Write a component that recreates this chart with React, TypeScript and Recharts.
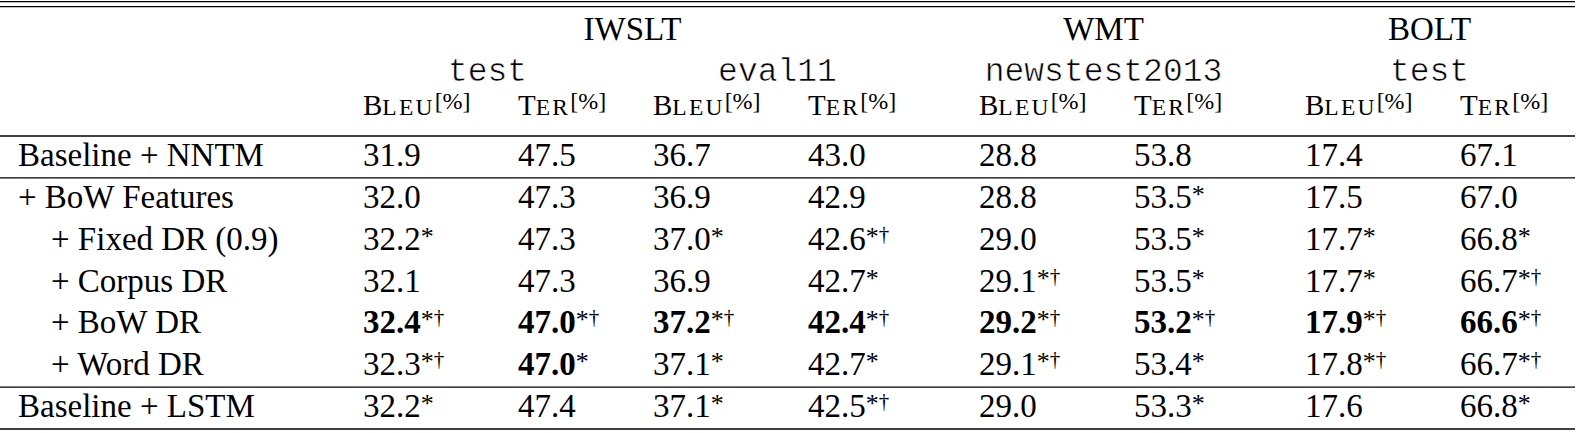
import React from "react";
import { ScatterChart, Scatter, XAxis, YAxis, ReferenceLine } from "recharts";

// ---- table content ----
const datasets = ["IWSLT", "WMT", "BOLT"];
const testSets = ["test", "eval11", "newstest2013", "test"];
const testSetDataset = [0, 0, 1, 2];
const metrics = ["BLEU", "TER"];

const systems = [
  "Baseline + NNTM",
  "+ BoW Features",
  "+ Fixed DR (0.9)",
  "+ Corpus DR",
  "+ BoW DR",
  "+ Word DR",
  "Baseline + LSTM",
];
const systemIndent = [0, 0, 1, 1, 1, 1, 0];

const iwsltTestBleu = [31.9, 32.0, 32.2, 32.1, 32.4, 32.3, 32.2];
const iwsltTestTer = [47.5, 47.3, 47.3, 47.3, 47.0, 47.0, 47.4];
const iwsltEvalBleu = [36.7, 36.9, 37.0, 36.9, 37.2, 37.1, 37.1];
const iwsltEvalTer = [43.0, 42.9, 42.6, 42.7, 42.4, 42.7, 42.5];
const wmtBleu = [28.8, 28.8, 29.0, 29.1, 29.2, 29.1, 29.0];
const wmtTer = [53.8, 53.5, 53.5, 53.5, 53.2, 53.4, 53.3];
const boltBleu = [17.4, 17.5, 17.7, 17.7, 17.9, 17.8, 17.6];
const boltTer = [67.1, 67.0, 66.8, 66.7, 66.6, 66.7, 66.8];

// significance marks (* and †)
const iwsltTestBleuSig = ["", "", "*", "", "*†", "*†", "*"];
const iwsltTestTerSig = ["", "", "", "", "*†", "*", ""];
const iwsltEvalBleuSig = ["", "", "*", "", "*†", "*", "*"];
const iwsltEvalTerSig = ["", "", "*†", "*", "*†", "*", "*†"];
const wmtBleuSig = ["", "", "", "*†", "*†", "*†", ""];
const wmtTerSig = ["", "*", "*", "*", "*†", "*", "*"];
const boltBleuSig = ["", "", "*", "*", "*†", "*†", ""];
const boltTerSig = ["", "", "*", "*†", "*†", "*†", "*"];

const columns = [
  { set: 0, metric: 0, values: iwsltTestBleu, sig: iwsltTestBleuSig },
  { set: 0, metric: 1, values: iwsltTestTer, sig: iwsltTestTerSig },
  { set: 1, metric: 0, values: iwsltEvalBleu, sig: iwsltEvalBleuSig },
  { set: 1, metric: 1, values: iwsltEvalTer, sig: iwsltEvalTerSig },
  { set: 2, metric: 0, values: wmtBleu, sig: wmtBleuSig },
  { set: 2, metric: 1, values: wmtTer, sig: wmtTerSig },
  { set: 3, metric: 0, values: boltBleu, sig: boltBleuSig },
  { set: 3, metric: 1, values: boltTer, sig: boltTerSig },
];

// ---- layout ----
const WIDTH = 1578;
const HEIGHT = 433;
const PLOT_W = 1575;
const FIRST_COL = 363;
const BLEU_W = 155;
const TER_W = 135;
const GROUP_GAP = 36;
const TER_HEAD_W = 94;
const LABEL_X = 18;
const INDENT = 33;
const SERIF = "'Liberation Serif', 'Times New Roman', serif";
const MONO = "'Liberation Mono', 'Courier New', monospace";
const FS = 33;
const RULE = 1.3;

const colLeft: number[] = [];
{
  let pos = FIRST_COL;
  columns.forEach((c, i) => {
    colLeft.push(pos);
    pos += c.metric === 0 ? BLEU_W : TER_W;
    const next = columns[i + 1];
    if (next && testSetDataset[next.set] !== testSetDataset[c.set]) pos += GROUP_GAP;
  });
}
const spanCenter = (idx: number[]) =>
  (colLeft[idx[0]] + colLeft[idx[idx.length - 1]] + TER_HEAD_W) / 2;
const setCenters = testSets.map((_, s) =>
  spanCenter(columns.map((c, i) => (c.set === s ? i : -1)).filter((i) => i >= 0))
);
const datasetCenters = datasets.map((_, d) =>
  spanCenter(
    columns.map((c, i) => (testSetDataset[c.set] === d ? i : -1)).filter((i) => i >= 0)
  )
);

const best = columns.map((c) =>
  c.metric === 0 ? Math.max(...c.values) : Math.min(...c.values)
);

const cellData = columns.map((c, ci) =>
  systems.map((s, ri) => ({
    x: colLeft[ci],
    system: s,
    value: c.values[ri],
    sig: c.sig[ri],
    bold: c.values[ri] === best[ci],
  }))
);
const labelData = systems.map((s, ri) => ({
  x: LABEL_X + INDENT * systemIndent[ri],
  system: s,
}));
// anchors so the header axes get a domain
const setAnchors = setCenters.map((x) => ({ x, system: systems[0] }));
const datasetAnchors = datasetCenters.map((x) => ({ x, system: systems[0] }));

const CellText = (props: any) => {
  const { cx, cy, payload } = props;
  const sig: string = payload.sig || "";
  return (
    <text
      x={cx}
      y={cy + 9}
      fontFamily={SERIF}
      fontSize={FS}
      fontWeight={payload.bold ? 700 : 400}
      fill="#000"
    >
      {payload.value.toFixed(1)}
      {sig.includes("*") && (
        <tspan fontSize={26} fontWeight={400} dy={-5}>
          *
        </tspan>
      )}
      {sig.includes("†") && (
        <tspan fontSize={21} fontWeight={400} dy={-4}>
          †
        </tspan>
      )}
    </text>
  );
};

const LabelText = (props: any) => {
  const { cx, cy, payload } = props;
  return (
    <text x={cx} y={cy + 9} fontFamily={SERIF} fontSize={FS} fill="#000">
      {payload.system}
    </text>
  );
};

const Empty = () => <g />;

const MetricTick = (props: any) => {
  const { x, y, payload } = props;
  const ci = colLeft.indexOf(payload.value);
  if (ci < 0) return null;
  const name = metrics[columns[ci].metric];
  return (
    <text x={x} y={y - 21} fontFamily={SERIF} fontSize={29} fill="#000" textAnchor="start">
      <tspan>{name[0]}</tspan>
      <tspan fontSize={23.5} letterSpacing={2.2}>
        {name.slice(1)}
      </tspan>
      <tspan fontSize={24} dy={-6}>
        [%]
      </tspan>
    </text>
  );
};

const SetTick = (props: any) => {
  const { x, y, payload } = props;
  const si = setCenters.findIndex((v) => Math.abs(v - payload.value) < 0.01);
  if (si < 0) return null;
  return (
    <text
      x={x}
      y={y - 15}
      fontFamily={MONO}
      fontSize={33}
      fill="#000"
      stroke="#fff"
      strokeWidth={0.6}
      textAnchor="middle"
    >
      {testSets[si]}
    </text>
  );
};

const DatasetTick = (props: any) => {
  const { x, y, payload } = props;
  const di = datasetCenters.findIndex((v) => Math.abs(v - payload.value) < 0.01);
  if (di < 0) return null;
  return (
    <text x={x} y={y - 11} fontFamily={SERIF} fontSize={FS} fill="#000" textAnchor="middle">
      {datasets[di]}
    </text>
  );
};

const ruleLine = { stroke: "#000", strokeWidth: RULE };

export default function App() {
  return (
    <div style={{ position: "absolute", left: 0, top: 0, width: WIDTH, height: HEIGHT, background: "#fff" }}>
      <ScatterChart width={WIDTH} height={HEIGHT} margin={{ top: 0, right: WIDTH - PLOT_W, bottom: 0, left: 0 }}>
        {/* top axes stack upwards from the table body: metrics, test sets, datasets, double rule */}
        <XAxis
          xAxisId="h1_metric"
          type="number"
          dataKey="x"
          orientation="top"
          domain={[0, PLOT_W]}
          allowDataOverflow
          height={40}
          ticks={colLeft}
          interval={0}
          tick={<MetricTick />}
          tickLine={false}
          tickSize={0}
          tickMargin={0}
          axisLine={ruleLine}
        />
        <XAxis
          xAxisId="h2_set"
          type="number"
          dataKey="x"
          orientation="top"
          domain={[0, PLOT_W]}
          allowDataOverflow
          height={45}
          ticks={setCenters}
          interval={0}
          tick={<SetTick />}
          tickLine={false}
          tickSize={0}
          tickMargin={0}
          axisLine={false}
        />
        <XAxis
          xAxisId="h3_dataset"
          type="number"
          dataKey="x"
          orientation="top"
          domain={[0, PLOT_W]}
          allowDataOverflow
          height={44.3}
          ticks={datasetCenters}
          interval={0}
          tick={<DatasetTick />}
          tickLine={false}
          tickSize={0}
          tickMargin={0}
          axisLine={false}
        />
        <XAxis
          xAxisId="h4_rule"
          type="number"
          orientation="top"
          domain={[0, PLOT_W]}
          height={5}
          tick={false}
          tickLine={false}
          axisLine={ruleLine}
        />
        <XAxis
          xAxisId="h5_rule"
          type="number"
          orientation="top"
          domain={[0, PLOT_W]}
          height={1.7}
          tick={false}
          tickLine={false}
          axisLine={ruleLine}
        />
        <XAxis
          xAxisId="z_bottom"
          type="number"
          orientation="bottom"
          domain={[0, PLOT_W]}
          height={4}
          tick={false}
          tickLine={false}
          axisLine={ruleLine}
        />
        <YAxis type="category" dataKey="system" hide reversed allowDuplicatedCategory={false} />
        <ReferenceLine xAxisId="h1_metric" y={systems[1]} position="start" stroke="#000" strokeWidth={RULE} />
        <ReferenceLine xAxisId="h1_metric" y={systems[6]} position="start" stroke="#000" strokeWidth={RULE} />
        <Scatter xAxisId="h2_set" data={setAnchors} shape={<Empty />} isAnimationActive={false} />
        <Scatter xAxisId="h3_dataset" data={datasetAnchors} shape={<Empty />} isAnimationActive={false} />
        <Scatter xAxisId="h1_metric" data={labelData} shape={<LabelText />} isAnimationActive={false} />
        {cellData.map((d, i) => (
          <Scatter key={i} xAxisId="h1_metric" data={d} shape={<CellText />} isAnimationActive={false} />
        ))}
      </ScatterChart>
    </div>
  );
}
